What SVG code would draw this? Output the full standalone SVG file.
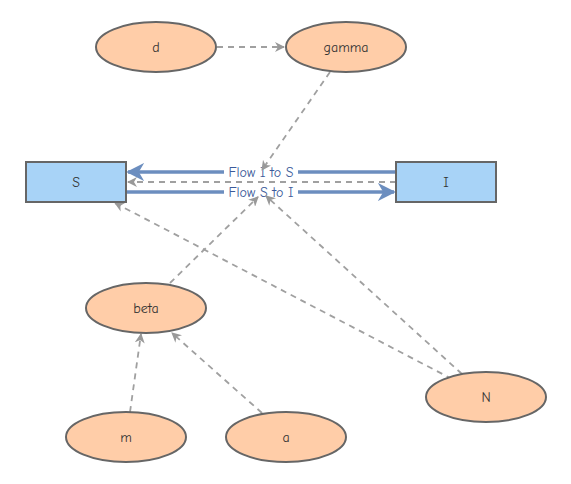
<svg xmlns="http://www.w3.org/2000/svg" width="571" height="484" viewBox="0 0 571 484">
<defs>
<style>
.ell{fill:#ffcda8;stroke:#666;stroke-width:2}
.box{fill:#a8d3f7;stroke:#666;stroke-width:2}
.lbl{font-family:"Comic Neue","DejaVu Sans","Liberation Sans",sans-serif;font-size:14px;fill:#333;text-anchor:middle;dominant-baseline:central}
.dash{fill:none;stroke:#a0a0a0;stroke-width:1.8;stroke-dasharray:6 5}
.flow{fill:none;stroke:#6c8ebf;stroke-width:3.5}
.flbl{font-family:"Comic Neue","DejaVu Sans","Liberation Sans",sans-serif;font-size:14px;fill:#3b5a9a;text-anchor:middle;dominant-baseline:central}
</style>
<marker id="ag" viewBox="0 0 10 10" refX="9" refY="5" markerWidth="10" markerHeight="10" markerUnits="userSpaceOnUse" orient="auto">
<path d="M0,0 L10,5 L0,10 L3,5 z" fill="#999"/>
</marker>
<marker id="ab" viewBox="0 0 10 10" refX="9" refY="5" markerWidth="18" markerHeight="18" markerUnits="userSpaceOnUse" orient="auto">
<path d="M0,0 L10,5 L0,10 L3,5 z" fill="#6c8ebf"/>
</marker>
</defs>
<g id="connectors">
<line class="dash" x1="217" y1="47" x2="284" y2="47" marker-end="url(#ag)"/>
<line class="dash" x1="396" y1="182" x2="128" y2="182" marker-end="url(#ag)"/>
<line class="flow" x1="396" y1="172" x2="128" y2="172" marker-end="url(#ab)"/>
<line class="flow" x1="126" y1="192" x2="394" y2="192" marker-end="url(#ab)"/>
<rect x="224" y="164" width="74" height="16" fill="#fff"/>
<text class="flbl" x="261" y="172">Flow I to S</text>
<rect x="224" y="184" width="74" height="16" fill="#fff"/>
<text class="flbl" x="261" y="192">Flow S to I</text>
<line class="dash" x1="330" y1="72" x2="262" y2="170" marker-end="url(#ag)"/>
<line class="dash" x1="170" y1="283" x2="258" y2="197" marker-end="url(#ag)"/>
<line class="dash" x1="462" y1="374" x2="266" y2="196" marker-end="url(#ag)"/>
<line class="dash" x1="452" y1="379" x2="115" y2="203" marker-end="url(#ag)"/>
<line class="dash" x1="130" y1="412" x2="141" y2="334" marker-end="url(#ag)"/>
<line class="dash" x1="262" y1="413" x2="172" y2="333" marker-end="url(#ag)"/>
</g>
<g id="node-d"><ellipse class="ell" cx="156" cy="47" rx="60" ry="25"/><text class="lbl" x="156" y="47">d</text></g>
<g id="node-gamma"><ellipse class="ell" cx="346" cy="47" rx="60" ry="25"/><text class="lbl" x="346" y="47">gamma</text></g>
<g id="node-S"><rect class="box" x="26" y="162" width="100" height="40"/><text class="lbl" x="76" y="182">S</text></g>
<g id="node-I"><rect class="box" x="396" y="162" width="100" height="40"/><text class="lbl" x="446" y="182">I</text></g>
<g id="node-beta"><ellipse class="ell" cx="146" cy="308" rx="60" ry="25"/><text class="lbl" x="146" y="308">beta</text></g>
<g id="node-m"><ellipse class="ell" cx="126" cy="437" rx="60" ry="25"/><text class="lbl" x="126" y="437">m</text></g>
<g id="node-a"><ellipse class="ell" cx="286" cy="437" rx="60" ry="25"/><text class="lbl" x="286" y="437">a</text></g>
<g id="node-N"><ellipse class="ell" cx="486" cy="397" rx="60" ry="25"/><text class="lbl" x="486" y="397">N</text></g>
</svg>
